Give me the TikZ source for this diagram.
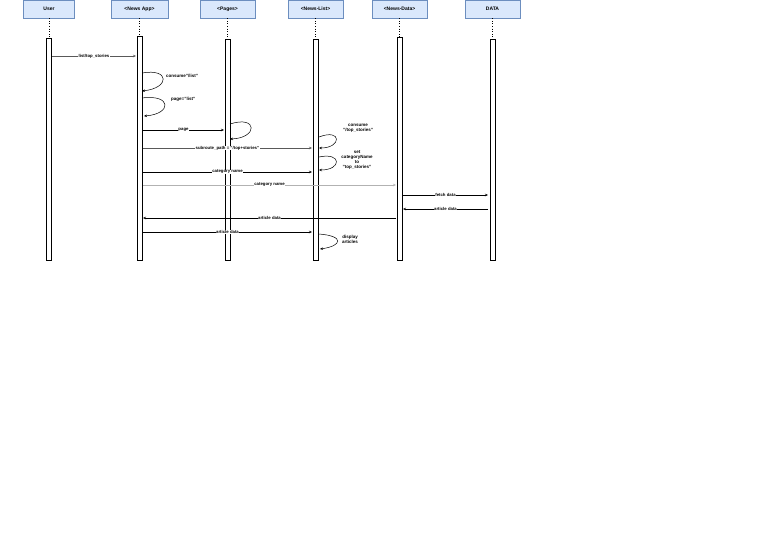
\documentclass[tikz,border=0pt]{standalone}
\usepackage{fontspec}
\setmainfont{Liberation Sans}
\usetikzlibrary{arrows.meta}
\definecolor{hfill}{HTML}{DAE8FC}
\definecolor{hdraw}{HTML}{6C8EBF}
\begin{document}
\begin{tikzpicture}[x=1pt,y=-1pt,
 hdr/.style={draw=hdraw,fill=hfill,minimum width=#1,minimum height=18pt,inner sep=0pt,font=\fontsize{5}{6}\selectfont\bfseries},
 bar/.style={draw,fill=white,line width=0.8pt},
 msg/.style={-{Stealth[length=3pt,width=2.5pt]},line width=0.6pt},
 lbl/.style={font=\fontsize{4.3}{5}\selectfont\bfseries,fill=white,inner sep=0.3pt,text=black},
 nlbl/.style={font=\fontsize{4.5}{5}\selectfont\bfseries,align=center,inner sep=0pt},
 self/.style={-{Stealth[length=3pt,width=2.5pt]},line width=0.5pt}]
\useasboundingbox (0,0) rectangle (768,544);
\foreach \n/\x/\w/\t/\a in {u/49/51/User/38,app/139.5/57/{<News App>}/36,pg/227.5/55/{<Pages>}/39,nl/315.5/55/{<News-List>}/39,nd/399.5/55/{<News-Data>}/37,d/492.5/55/DATA/39}{
 \node[hdr=\w] (\n) at (\x,9) {\t};
 \draw[dotted,line width=0.6pt] (\n.south) -- (\x,\a);
 \draw[bar] (\x-2.5,\a) rectangle (\x+2.5,260);
}
\coordinate (u1) at (52,56); \coordinate (a1) at (136,56);
\draw[msg,gray!70!black] (u1) -- node[lbl]{list/top\_stories} (a1);
\coordinate (s1) at (142,73); \coordinate (e1) at (142,91);
\draw[self] (s1) .. controls (170,68) and (170,88) .. (e1);
\node[nlbl,anchor=west] (t1) at (166,76) {consume"/list"};
\coordinate (s2) at (142,98); \coordinate (e2) at (144,116);
\draw[self] (s2) .. controls (172,94) and (172,114) .. (e2);
\node[nlbl,anchor=west] (t2) at (171,99) {page="list"};
\coordinate (a3) at (143,130); \coordinate (p3) at (224,130);
\draw[msg] (a3) -- node[lbl]{page} (p3);
\coordinate (s3) at (230,124); \coordinate (e3) at (230,139);
\draw[self] (s3) .. controls (258,115) and (258,138) .. (e3);
\coordinate (a4) at (143,148); \coordinate (l4) at (312,148);
\draw[msg,gray!70!black] (a4) -- node[lbl]{subroute\_path = "/top+stories"} (l4);
\coordinate (s5) at (319,137); \coordinate (e5) at (319,148);
\draw[self] (s5) .. controls (342,128) and (342,148) .. (e5);
\node[nlbl] (t5) at (358,128) {consume\\"/top\_stories"};
\coordinate (s6) at (319,157); \coordinate (e6) at (319,170);
\draw[self] (s6) .. controls (342,152) and (342,170) .. (e6);
\node[nlbl] (t6) at (357,160) {set\\categoryName\\to\\"top\_stories"};
\coordinate (a7) at (143,172); \coordinate (l7) at (312,172);
\draw[msg] (a7) -- node[lbl]{category name} (l7);
\coordinate (a8) at (143,185); \coordinate (n8) at (396,185);
\draw[msg,gray!60] (a8) -- node[lbl]{category name} (n8);
\coordinate (n9) at (403,195); \coordinate (d9) at (488,195);
\draw[msg] (n9) -- node[lbl]{fetch data} (d9);
\coordinate (d10) at (488,209); \coordinate (n10) at (403,209);
\draw[msg] (d10) -- node[lbl]{article data} (n10);
\coordinate (n11) at (396,218); \coordinate (a11) at (143,218);
\draw[msg] (n11) -- node[lbl]{article data} (a11);
\coordinate (a12) at (143,232); \coordinate (l12) at (312,232);
\draw[msg] (a12) -- node[lbl]{article data} (l12);
\coordinate (s13) at (319,234); \coordinate (e13) at (320,249);
\draw[self] (s13) .. controls (345,236) and (342,246) .. (e13);
\node[nlbl,anchor=west] (t13) at (342,239) {display\\articles};
\end{tikzpicture}
\end{document}
